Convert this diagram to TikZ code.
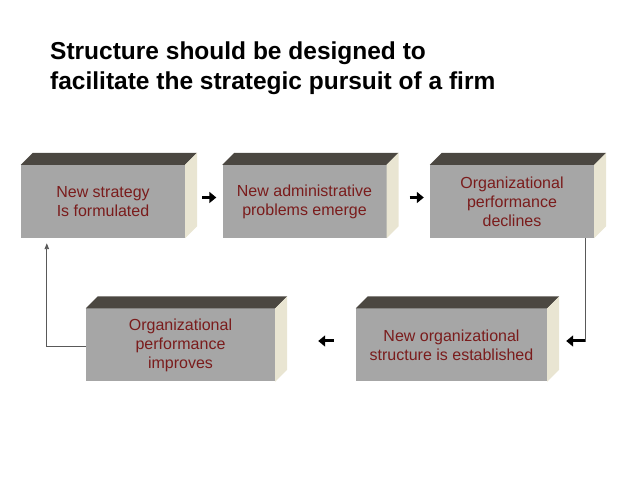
\documentclass[tikz,border=0pt]{standalone}
\usepackage{fontspec}
\setmainfont{Liberation Sans}
\usetikzlibrary{arrows.meta}
\definecolor{frontgray}{HTML}{A6A6A6}
\definecolor{topdark}{HTML}{4B4741}
\definecolor{sidecream}{HTML}{E9E5D2}
\definecolor{textred}{HTML}{7A1C1C}
\tikzset{
  stepbox/.style={fill=frontgray, minimum width=164pt, minimum height=73pt, inner sep=0pt,
    text=textred, align=center, font=\fontsize{16}{19}\selectfont},
  bigarrow/.style={-{Triangle[length=7pt,width=11pt]}, line width=3pt},
  thinline/.style={draw=black!65, line width=0.9pt},
}
\begin{document}
\begin{tikzpicture}[x=1pt,y=-1pt]
        \useasboundingbox (0,0) rectangle (638,478);
        % Title
        \node[anchor=base west, inner sep=0pt, font=\bfseries\fontsize{24.5}{30}\selectfont] (title1) at (50,60) {Structure should be designed to};
        \node[anchor=base west, inner sep=0pt, font=\bfseries\fontsize{24.5}{30}\selectfont] (title2) at (50,90) {facilitate the strategic pursuit of a firm};
        % Front faces of the boxes
        \node[stepbox] (stratbox) at (103,201.5) {New strategy\\Is formulated};
        \node[stepbox] (probbox) at (304.5,201.5) {New administrative\\problems emerge};
        \node[stepbox] (declbox) at (512,201.5) {Organizational\\performance\\declines};
        \node[stepbox, minimum width=189pt] (impbox) at (180.5,345) {Organizational\\performance\\improves};
        \node[stepbox, minimum width=191pt] (estbox) at (451.5,345) {New organizational\\structure is established};
        % Top and side faces
        \foreach \b in {stratbox,probbox,declbox,impbox,estbox} {
            \fill[topdark] (\b.north west) -- ++(12,-12) -- ([shift={(12,-12)}]\b.north east) -- (\b.north east) -- cycle;
            \fill[sidecream] (\b.north east) -- ++(12,-12) -- ([shift={(12,-12)}]\b.south east) -- (\b.south east) -- cycle;
        }
        % Arrows
        \draw[bigarrow] ([xshift=17pt,yshift=4pt]stratbox.east) -- ([xshift=-6pt,yshift=4pt]probbox.west);
        \draw[bigarrow] ([xshift=23pt,yshift=4pt]probbox.east) -- ([xshift=-6pt,yshift=4pt]declbox.west);
        \draw[thinline] ([xshift=-9pt]declbox.south east) |- ([xshift=28pt,yshift=4pt]estbox.east);
        \draw[bigarrow] ([xshift=38pt,yshift=4pt]estbox.east) -- ([xshift=19pt,yshift=4pt]estbox.east);
        \draw[bigarrow] ([xshift=-22pt,yshift=4pt]estbox.west) -- ([xshift=43pt,yshift=4pt]impbox.east);
        \draw[thinline, -{Triangle[length=6pt,width=4.5pt]}] ([yshift=-1pt]impbox.west) -| ([xshift=26pt,yshift=-5pt]stratbox.south west);
    \end{tikzpicture}
\end{document}
